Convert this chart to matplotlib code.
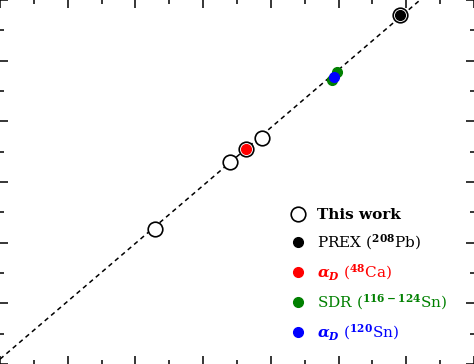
import numpy as np
import matplotlib
matplotlib.use("Agg")
import matplotlib.pyplot as plt
from matplotlib.ticker import MultipleLocator

plt.rcParams['mathtext.fontset'] = 'custom'
plt.rcParams['mathtext.rm'] = 'DejaVu Serif:bold'
plt.rcParams['mathtext.it'] = 'DejaVu Serif:italic:bold'
plt.rcParams['mathtext.bf'] = 'DejaVu Serif:bold'

# datos
work_x = [0.229, 0.340, 0.363, 0.387, 0.591]
work_y = [0.2225, 0.333, 0.354, 0.3725, 0.575]

prex_x = [0.591]
prex_y = [0.575]

ca_x = [0.363]
ca_y = [0.354]

sdr_x = [0.490, 0.497]
sdr_y = [0.468, 0.481]

sn_x = [0.493]
sn_y = [0.473]

line_x = [0.0, 0.7]
line_y = [0.008, 0.676]

fig = plt.figure(figsize=(4.74, 3.64), dpi=100)
ax = fig.add_axes([0, 0, 1, 1])

ax.plot(line_x, line_y, color="black", lw=1.1, ls=(0, (3, 2.5)), zorder=1)

ax.plot(work_x, work_y, "o", ms=10.5, mfc="white", mec="black", mew=1.2,
        ls="none", label="This work", zorder=2)
ax.plot(prex_x, prex_y, "o", ms=7, color="black", ls="none",
        label=r"PREX ($^{208}$Pb)", zorder=3)
ax.plot(ca_x, ca_y, "o", ms=7, color="red", ls="none",
        label=r"$\alpha_D$ ($^{48}$Ca)", zorder=3)
ax.plot(sdr_x, sdr_y, "o", ms=7, color="green", ls="none",
        label=r"SDR ($^{116-124}$Sn)", zorder=3)
ax.plot(sn_x, sn_y, "o", ms=7, color="blue", ls="none",
        label=r"$\alpha_D$ ($^{120}$Sn)", zorder=4)

ax.set_xlim(0, 0.7)
ax.set_ylim(0, 0.6)

ax.xaxis.set_major_locator(MultipleLocator(0.1))
ax.xaxis.set_minor_locator(MultipleLocator(0.05))
ax.yaxis.set_major_locator(MultipleLocator(0.1))
ax.yaxis.set_minor_locator(MultipleLocator(0.05))
ax.tick_params(which="both", direction="in", top=True, right=True,
               labelbottom=False, labelleft=False, width=1.1)
ax.tick_params(which="major", length=6)
ax.tick_params(which="minor", length=3)
for s in ax.spines.values():
    s.set_visible(False)

leg = ax.legend(loc="lower right", bbox_to_anchor=(448 / 474, 22 / 364),
                frameon=False,
                prop={"family": "DejaVu Serif", "size": 11},
                handletextpad=0.8, labelspacing=0.68, handlelength=1.0,
                borderpad=0.0, borderaxespad=0.0)
for t, c in zip(leg.get_texts(), ["black", "black", "red", "green", "blue"]):
    t.set_color(c)
leg.get_texts()[0].set_fontweight("bold")

fig.savefig("out.png", dpi=100)
